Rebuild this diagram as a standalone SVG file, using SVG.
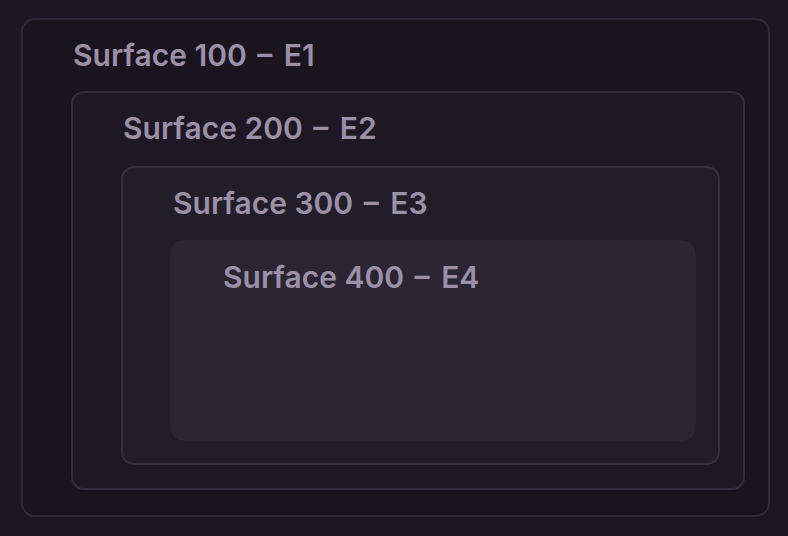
<svg xmlns="http://www.w3.org/2000/svg" width="788" height="536" viewBox="0 0 788 536">
<style>
.t{font-family:Inter,"Noto Sans",sans-serif;font-weight:600;font-size:30px;fill:#9b90a8}
.b{stroke-width:2}
</style>
<rect width="788" height="536" fill="#1c1722"/>
<g id="e1"><rect class="b" x="22" y="19" width="747" height="497" rx="13" fill="#19141e" stroke="#2f2937"/><text class="t" x="73" y="66">Surface 100 <tspan dx="3">–</tspan><tspan dx="4"> E1</tspan></text></g>
<g id="e2"><rect class="b" x="72" y="92" width="672" height="397" rx="12" fill="#1d1823" stroke="#332d3c"/><text class="t" x="123" y="139">Surface 200 <tspan dx="3">–</tspan><tspan dx="4"> E2</tspan></text></g>
<g id="e3"><rect class="b" x="122" y="167" width="597" height="297" rx="12" fill="#221e29" stroke="#352f3e"/><text class="t" x="173" y="214">Surface 300 <tspan dx="3">–</tspan><tspan dx="4"> E3</tspan></text></g>
<g id="e4"><rect x="171" y="241" width="524" height="199" rx="12" fill="#2b2533" stroke="#2f2937" stroke-width="1"/><text class="t" x="223" y="288">Surface 400 <tspan dx="3">–</tspan><tspan dx="4"> E4</tspan></text></g>
<g id="connectors"/>
</svg>
